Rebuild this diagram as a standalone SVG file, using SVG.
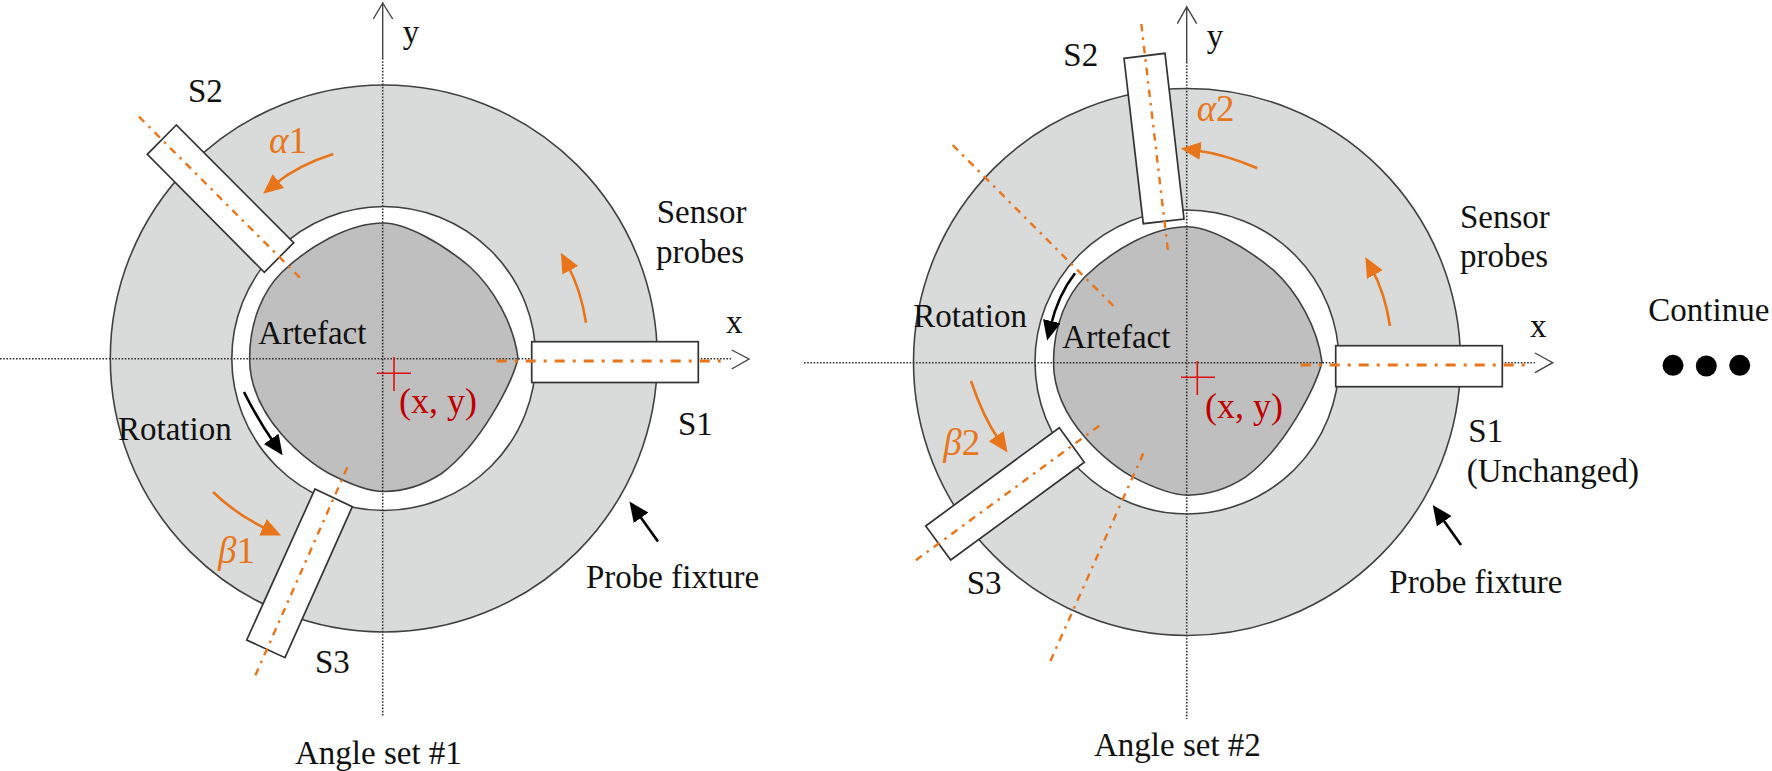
<svg xmlns="http://www.w3.org/2000/svg" width="1772" height="771" viewBox="0 0 1772 771">
<style>
text{font-family:"Liberation Serif","Times New Roman",serif;font-size:33px;fill:#111}
.red{fill:#C00000;font-size:36px}
.ang{fill:#E8751A;font-size:37px}
.ang tspan.g{font-style:italic}
.fix{fill:#D9DBDB;stroke:#404040;stroke-width:1.6}
.gap{fill:#fff;stroke:#404040;stroke-width:1.6}
.art{fill:#BFBFBF;stroke:#404040;stroke-width:1.6}
.probe{fill:#fff;stroke:#333;stroke-width:1.7}
.axis{fill:none;stroke:#444;stroke-width:1.4}
.dot{fill:none;stroke:#333;stroke-width:1.6;stroke-dasharray:1.6 1.6}
.cl{fill:none;stroke:#E8751A;stroke-width:2.4;stroke-dasharray:7.5 6 2.5 6}
.cl1{stroke-width:2.8;stroke-dasharray:10 8 3 8}
.oa{fill:none;stroke:#E8751A;stroke-width:2.6;marker-end:url(#oh)}
.ba{fill:none;stroke:#000;stroke-width:2.6;marker-end:url(#bh)}
.cross{fill:none;stroke:#E01010;stroke-width:1.6}
</style>
<defs>
<marker id="oh" markerUnits="userSpaceOnUse" markerWidth="22" markerHeight="20" refX="6" refY="9" orient="auto"><path d="M0 0L20 9L0 18z" fill="#E8751A"/></marker>
<marker id="bh" markerUnits="userSpaceOnUse" markerWidth="22" markerHeight="20" refX="6" refY="9" orient="auto"><path d="M0 0L20 9L0 18z" fill="#000"/></marker>
<path id="artefact" class="art" d="M0 -135.5C20 -135.5 55 -118 86 -92C110 -70 130 -35 134.5 0C128 25 98 85 58 115C38 128 18 133 0 133C-15 133 -35 125 -55 114.7C-75 104 -134 60 -134 0C-134 -38 -120 -68 -102 -86C-75 -112 -35 -135.5 0 -135.5Z"/>
</defs>

<g id="fixture-1">
<circle class="fix" cx="383.8" cy="358.5" r="273.5"/>
<circle class="gap" cx="383.8" cy="358.5" r="152"/>
</g>
<g id="artefact-1"><use href="#artefact" x="383.6" y="358.5"/></g>
<g id="fixture-2">
<circle class="fix" cx="1187" cy="362" r="273.5"/>
<circle class="gap" cx="1187" cy="362" r="152"/>
</g>
<g id="artefact-2"><use href="#artefact" x="1187.5" y="362.2"/></g>

<g id="connectors">
<path class="dot" d="M0 358.7H732"/>
<path class="dot" d="M382.7 58V716"/>
<path class="axis" d="M382.7 2V58M373.3 19L382.7 3L392.7 19"/>
<path class="axis" d="M731.7 350L749 359L731.7 369"/>
<path class="dot" d="M804 362.7H1535"/>
<path class="dot" d="M1186.7 62V719"/>
<path class="axis" d="M1186.7 6V62M1177.3 23.7L1186.7 7L1196.7 23.7"/>
<path class="axis" d="M1535 353L1552.7 362.7L1535 372.7"/>
</g>

<g id="s1-probe-1"><rect class="probe" x="531.7" y="341.7" width="166.6" height="40.8"/></g>
<g id="s2-probe-1"><path class="probe" d="M176.3 125L147.3 154.3L264.3 272.3L293.7 242.7Z"/></g>
<g id="s3-probe-1"><path class="probe" d="M315 489L352.3 506.7L285 657.7L246.7 640Z"/></g>
<g id="s1-probe-2"><rect class="probe" x="1335.7" y="345.7" width="166.6" height="41"/></g>
<g id="s2-probe-2"><path class="probe" d="M1124 58.3L1165 53.3L1184 219L1143.3 223.7Z"/></g>
<g id="s3-probe-2"><path class="probe" d="M1059.3 427.7L1084.3 462.3L950.7 560L925.7 526Z"/></g>

<g id="centre-lines">
<path class="cl cl1" d="M496.7 361H723"/>
<path class="cl" d="M139 116.7L303.3 281"/>
<path class="cl" d="M347.3 467.3L253.3 680"/>
<path class="cl cl1" d="M1300.7 365H1526.7"/>
<path class="cl" d="M1141.3 24L1168.3 254"/>
<path class="cl" d="M1099.3 425.7L911.7 563.3"/>
<path class="cl" d="M952.7 145L1116.7 309.3"/>
<path class="cl" d="M1143.3 453.3L1048.3 665.7"/>
</g>

<g id="arrows">
<path class="oa" d="M333.3 154Q298 165 273.8 184.9"/>
<path class="oa" d="M586 322.7Q581 290 567.5 265"/>
<path class="oa" d="M213 492Q238 516 268.4 529.7"/>
<path class="ba" d="M244 392Q258 420 274.6 443.8"/>
<path class="ba" d="M658 541.5L637.6 512.9"/>
<path class="oa" d="M1257.3 168.3Q1225 154 1194.6 150.2"/>
<path class="oa" d="M1390 326Q1385 293 1372 269.3"/>
<path class="ba" d="M1075 273.3Q1058 295 1050.4 327"/>
<path class="oa" d="M971 381Q983 417 999.6 441"/>
<path class="ba" d="M1461 545L1440.8 516.4"/>
</g>

<g id="centre-1"><path class="cross" d="M377 373.3H411M394 357V391"/><text class="red" x="399" y="413">(x, y)</text></g>
<g id="centre-2"><path class="cross" d="M1181 377.3H1215M1197.3 361V395"/><text class="red" x="1205" y="418.3">(x, y)</text></g>

<g id="labels-1">
<text x="188" y="101.7">S2</text>
<text class="ang" x="269" y="153"><tspan class="g">α</tspan>1</text>
<text x="258.3" y="344">Artefact</text>
<text x="118" y="440">Rotation</text>
<text class="ang" x="218" y="562.7"><tspan class="g">β</tspan>1</text>
<text x="315" y="673">S3</text>
<text x="656.7" y="223.3">Sensor</text>
<text x="656" y="263.3">probes</text>
<text x="726" y="332.7">x</text>
<text x="402.7" y="43">y</text>
<text x="678" y="435">S1</text>
<text x="586" y="588">Probe fixture</text>
<text x="295" y="764">Angle set #1</text>
</g>
<g id="labels-2">
<text x="1063.3" y="65.7">S2</text>
<text class="ang" x="1196.7" y="120.7"><tspan class="g">α</tspan>2</text>
<text x="913.3" y="326.7">Rotation</text>
<text x="1062.3" y="348.3">Artefact</text>
<text class="ang" x="943.3" y="455"><tspan class="g">β</tspan>2</text>
<text x="966.7" y="594">S3</text>
<text x="1460" y="228.3">Sensor</text>
<text x="1460" y="267.3">probes</text>
<text x="1530" y="336.7">x</text>
<text x="1206.7" y="47">y</text>
<text x="1468.3" y="441.7">S1</text>
<text x="1466.7" y="481.7">(Unchanged)</text>
<text x="1389.3" y="592.7">Probe fixture</text>
<text x="1094" y="756">Angle set #2</text>
</g>
<g id="continue">
<text x="1648.3" y="320.7">Continue</text>
<circle cx="1673" cy="365.3" r="10.5"/>
<circle cx="1706.3" cy="366" r="10.5"/>
<circle cx="1739.7" cy="365.3" r="10.5"/>
</g>
</svg>
